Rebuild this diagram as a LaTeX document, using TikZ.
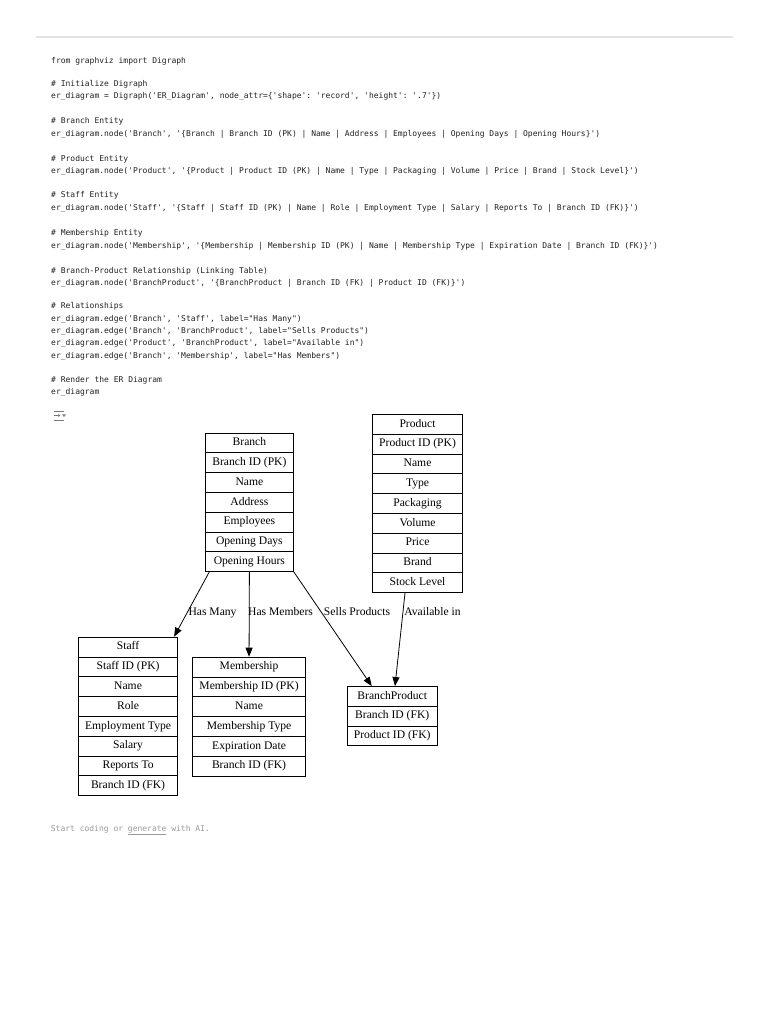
\documentclass[tikz,border=0pt]{standalone}
\usepackage{fontspec}
\setmainfont{Liberation Serif}
\setmonofont{DejaVu Sans Mono}
\usetikzlibrary{arrows.meta,calc}
\definecolor{codecol}{HTML}{222222}
\definecolor{hintcol}{HTML}{9A9A9A}
\definecolor{sepcol}{HTML}{E3E3E3}
\definecolor{iconcol}{HTML}{7A7A7A}
\newcommand{\errecord}[5]{%
  \foreach \t [count=\i] in {#5}{%
    \node[cell,minimum width=#4] (#1\i) at (#2,{#3+(\i-1)*19.8}) {\t};}}
\begin{document}
\begin{tikzpicture}[x=1pt,y=-1pt,
  code/.style={anchor=base west,inner sep=0,font=\ttfamily\fontsize{8}{9}\selectfont,text=codecol},
  hint/.style={anchor=base west,inner sep=0,font=\ttfamily\fontsize{8}{9}\selectfont,text=hintcol},
  cell/.style={draw,line width=0.8pt,inner sep=0,anchor=north west,minimum height=19.8pt,text height=8.2pt,text depth=2.6pt,font=\fontsize{11.6}{13}\selectfont},
  rel/.style={draw,line width=0.8pt,-{Triangle[length=9pt,width=7pt]}},
  lab/.style={inner sep=0,text height=8.2pt,text depth=2.6pt,font=\fontsize{11.6}{13}\selectfont}]
\useasboundingbox[fill=white] (0,0) rectangle (768,1024);

% separator
\draw[sepcol,line width=2.5pt] (36,37) -- (733,37);

% code
\node[code] (c1) at (51,63.7) {from graphviz import Digraph};
\node[code] (c2) at (51,86.3) {\# Initialize Digraph};
\node[code] (c3) at (51,98.7) {er\_diagram = Digraph('ER\_Diagram', node\_attr=\{'shape': 'record', 'height': '.7'\})};
\node[code] (c4) at (51,123.7) {\# Branch Entity};
\node[code] (c5) at (51,136.3) {er\_diagram.node('Branch', '\{Branch | Branch ID (PK) | Name | Address | Employees | Opening Days | Opening Hours\}')};
\node[code] (c6) at (51,161.3) {\# Product Entity};
\node[code] (c7) at (51,173.7) {er\_diagram.node('Product', '\{Product | Product ID (PK) | Name | Type | Packaging | Volume | Price | Brand | Stock Level\}')};
\node[code] (c8) at (51,198) {\# Staff Entity};
\node[code] (c9) at (51,210.3) {er\_diagram.node('Staff', '\{Staff | Staff ID (PK) | Name | Role | Employment Type | Salary | Reports To | Branch ID (FK)\}')};
\node[code] (c10) at (51,235.7) {\# Membership Entity};
\node[code] (c11) at (51,248) {er\_diagram.node('Membership', '\{Membership | Membership ID (PK) | Name | Membership Type | Expiration Date | Branch ID (FK)\}')};
\node[code] (c12) at (51,273) {\# Branch-Product Relationship (Linking Table)};
\node[code] (c13) at (51,285.3) {er\_diagram.node('BranchProduct', '\{BranchProduct | Branch ID (FK) | Product ID (FK)\}')};
\node[code] (c14) at (51,308.7) {\# Relationships};
\node[code] (c15) at (51,321.3) {er\_diagram.edge('Branch', 'Staff', label="Has Many")};
\node[code] (c16) at (51,333.7) {er\_diagram.edge('Branch', 'BranchProduct', label="Sells Products")};
\node[code] (c17) at (51,345.7) {er\_diagram.edge('Product', 'BranchProduct', label="Available in")};
\node[code] (c18) at (51,358) {er\_diagram.edge('Branch', 'Membership', label="Has Members")};
\node[code] (c19) at (51,382) {\# Render the ER Diagram};
\node[code] (c20) at (51,394.7) {er\_diagram};

% output icon
\draw[iconcol,line width=0.8pt] (54,411) -- (64,411);
\draw[iconcol,line width=0.8pt] (54,420) -- (64,420);
\draw[iconcol,line width=0.8pt,-{Stealth[length=2.5pt,width=3pt]}] (54,415.5) -- (60.5,415.5);
\fill[iconcol] (62,414.3) -- (66,414.3) -- (64,417) -- cycle;

% records
\errecord{branch}{205}{432.5}{88pt}{Branch,Branch ID (PK),Name,Address,Employees,Opening Days,Opening Hours}
\errecord{product}{372.3}{414}{89.7pt}{Product,Product ID (PK),Name,Type,Packaging,Volume,Price,Brand,Stock Level}
\errecord{staff}{78}{636.7}{99.3pt}{Staff,Staff ID (PK),Name,Role,Employment Type,Salary,Reports To,Branch ID (FK)}
\errecord{membership}{192.3}{656.7}{112.7pt}{Membership,Membership ID (PK),Name,Membership Type,Expiration Date,Branch ID (FK)}
\errecord{bp}{347}{686}{89.7pt}{BranchProduct,Branch ID (FK),Product ID (FK)}

% relationships
\draw[rel] ([xshift=4.3pt]branch7.south west) -- ([xshift=-4pt]staff1.north east);
\draw[rel] (branch7.south) -- (membership1.north);
\draw[rel] (branch7.south east) -- ([xshift=24.7pt]bp1.north west);
\draw[rel] ([xshift=32.7pt]product9.south west) -- ([xshift=48pt]bp1.north west);

\node[lab] (l1) at (212.5,613) {Has Many};
\node[lab] (l2) at (280.5,613) {Has Members};
\node[lab] (l3) at (357,613) {Sells Products};
\node[lab] (l4) at (432.5,613) {Available in};

% hint
\node[hint] (h1) at (50.7,831.3) {Start coding or \underline{generate} with AI.};
\end{tikzpicture}
\end{document}
